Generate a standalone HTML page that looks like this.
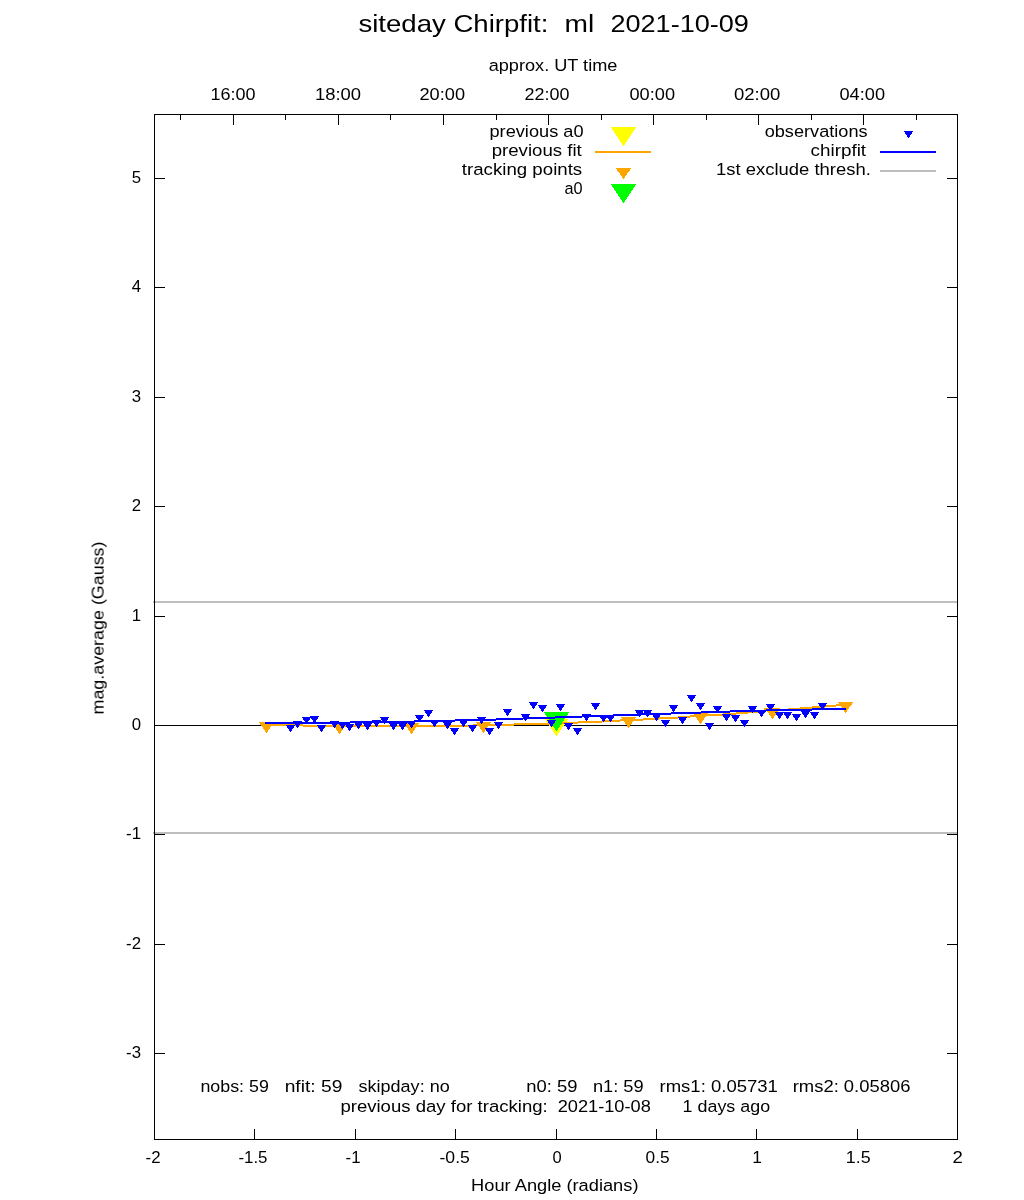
<!DOCTYPE html>
<html><head><meta charset="utf-8"><title>siteday Chirpfit</title>
<style>html,body{margin:0;padding:0;background:#fff;width:1024px;height:1200px;overflow:hidden}svg{display:block}</style>
</head><body>
<svg width="1024" height="1200" viewBox="0 0 1024 1200">
<rect width="1024" height="1200" fill="#fff"/>
<g stroke-linecap="butt" shape-rendering="crispEdges">
<line x1="154.5" y1="725.5" x2="957.5" y2="725.5" stroke="#000" stroke-width="1"/>
<line x1="154.5" y1="178.5" x2="164.5" y2="178.5" stroke="#000"/>
<line x1="957.5" y1="178.5" x2="947.0" y2="178.5" stroke="#000"/>
<line x1="154.5" y1="287.5" x2="164.5" y2="287.5" stroke="#000"/>
<line x1="957.5" y1="287.5" x2="947.0" y2="287.5" stroke="#000"/>
<line x1="154.5" y1="397.5" x2="164.5" y2="397.5" stroke="#000"/>
<line x1="957.5" y1="397.5" x2="947.0" y2="397.5" stroke="#000"/>
<line x1="154.5" y1="506.5" x2="164.5" y2="506.5" stroke="#000"/>
<line x1="957.5" y1="506.5" x2="947.0" y2="506.5" stroke="#000"/>
<line x1="154.5" y1="616.5" x2="164.5" y2="616.5" stroke="#000"/>
<line x1="957.5" y1="616.5" x2="947.0" y2="616.5" stroke="#000"/>
<line x1="154.5" y1="725.5" x2="164.5" y2="725.5" stroke="#000"/>
<line x1="957.5" y1="725.5" x2="947.0" y2="725.5" stroke="#000"/>
<line x1="154.5" y1="834.5" x2="164.5" y2="834.5" stroke="#000"/>
<line x1="957.5" y1="834.5" x2="947.0" y2="834.5" stroke="#000"/>
<line x1="154.5" y1="944.5" x2="164.5" y2="944.5" stroke="#000"/>
<line x1="957.5" y1="944.5" x2="947.0" y2="944.5" stroke="#000"/>
<line x1="154.5" y1="1053.5" x2="164.5" y2="1053.5" stroke="#000"/>
<line x1="957.5" y1="1053.5" x2="947.0" y2="1053.5" stroke="#000"/>
<line x1="154.5" y1="1139.5" x2="154.5" y2="1129.0" stroke="#000"/>
<line x1="254.5" y1="1139.5" x2="254.5" y2="1129.0" stroke="#000"/>
<line x1="355.5" y1="1139.5" x2="355.5" y2="1129.0" stroke="#000"/>
<line x1="455.5" y1="1139.5" x2="455.5" y2="1129.0" stroke="#000"/>
<line x1="556.5" y1="1139.5" x2="556.5" y2="1129.0" stroke="#000"/>
<line x1="656.5" y1="1139.5" x2="656.5" y2="1129.0" stroke="#000"/>
<line x1="756.5" y1="1139.5" x2="756.5" y2="1129.0" stroke="#000"/>
<line x1="857.5" y1="1139.5" x2="857.5" y2="1129.0" stroke="#000"/>
<line x1="957.5" y1="1139.5" x2="957.5" y2="1129.0" stroke="#000"/>
<line x1="180.5" y1="114.5" x2="180.5" y2="119.5" stroke="#000"/>
<line x1="233.5" y1="114.5" x2="233.5" y2="124.5" stroke="#000"/>
<line x1="285.5" y1="114.5" x2="285.5" y2="119.5" stroke="#000"/>
<line x1="338.5" y1="114.5" x2="338.5" y2="124.5" stroke="#000"/>
<line x1="390.5" y1="114.5" x2="390.5" y2="119.5" stroke="#000"/>
<line x1="443.5" y1="114.5" x2="443.5" y2="124.5" stroke="#000"/>
<line x1="496.5" y1="114.5" x2="496.5" y2="119.5" stroke="#000"/>
<line x1="548.5" y1="114.5" x2="548.5" y2="124.5" stroke="#000"/>
<line x1="601.5" y1="114.5" x2="601.5" y2="119.5" stroke="#000"/>
<line x1="653.5" y1="114.5" x2="653.5" y2="124.5" stroke="#000"/>
<line x1="706.5" y1="114.5" x2="706.5" y2="119.5" stroke="#000"/>
<line x1="758.5" y1="114.5" x2="758.5" y2="124.5" stroke="#000"/>
<line x1="811.5" y1="114.5" x2="811.5" y2="119.5" stroke="#000"/>
<line x1="863.5" y1="114.5" x2="863.5" y2="124.5" stroke="#000"/>
<line x1="916.5" y1="114.5" x2="916.5" y2="119.5" stroke="#000"/>
<path d="M545 719h23v1h-23zM546 720h21v1h-21zM546 721h21v1h-21zM547 722h19v1h-19zM548 723h17v1h-17zM548 724h17v1h-17zM549 725h15v1h-15zM550 726h13v1h-13zM551 727h11v1h-11zM551 728h11v1h-11zM552 729h9v1h-9zM553 730h7v1h-7zM553 731h7v1h-7zM554 732h5v1h-5zM555 733h3v1h-3zM555 734h3v1h-3zM556 735h1v1h-1z" fill="#ffff00"/>
<path fill="#ffa500" d="M265 724h38v2h-38zM303 725h170v2h-170zM473 724h41v2h-41zM514 723h48v2h-48zM562 722h16v2h-16zM578 721h24v2h-24zM602 720h18v2h-18zM620 719h23v2h-23zM643 718h16v2h-16zM659 717h19v2h-19zM678 716h12v2h-12zM690 715h14v2h-14zM704 714h19v2h-19zM723 713h13v2h-13zM736 712h12v2h-12zM748 711h16v2h-16zM764 708h16v2h-16zM780 709h8v2h-8zM788 708h12v2h-12zM800 707h12v2h-12zM812 706h13v2h-13zM825 705h11v2h-11zM836 704h10v2h-10z"/>
<path d="M259 722h15v1h-15zM260 723h13v1h-13zM260 724h13v1h-13zM261 725h11v1h-11zM262 726h9v1h-9zM263 727h7v1h-7zM263 728h7v1h-7zM264 729h5v1h-5zM265 730h3v1h-3zM265 731h3v1h-3zM266 732h1v1h-1z" fill="#ffa500"/>
<path d="M332 723h15v1h-15zM333 724h13v1h-13zM333 725h13v1h-13zM334 726h11v1h-11zM335 727h9v1h-9zM336 728h7v1h-7zM336 729h7v1h-7zM337 730h5v1h-5zM338 731h3v1h-3zM338 732h3v1h-3zM339 733h1v1h-1z" fill="#ffa500"/>
<path d="M404 723h15v1h-15zM405 724h13v1h-13zM405 725h13v1h-13zM406 726h11v1h-11zM407 727h9v1h-9zM408 728h7v1h-7zM408 729h7v1h-7zM409 730h5v1h-5zM410 731h3v1h-3zM410 732h3v1h-3zM411 733h1v1h-1z" fill="#ffa500"/>
<path d="M476 722h15v1h-15zM477 723h13v1h-13zM477 724h13v1h-13zM478 725h11v1h-11zM479 726h9v1h-9zM480 727h7v1h-7zM480 728h7v1h-7zM481 729h5v1h-5zM482 730h3v1h-3zM482 731h3v1h-3zM483 732h1v1h-1z" fill="#ffa500"/>
<path d="M621 717h15v1h-15zM622 718h13v1h-13zM622 719h13v1h-13zM623 720h11v1h-11zM624 721h9v1h-9zM625 722h7v1h-7zM625 723h7v1h-7zM626 724h5v1h-5zM627 725h3v1h-3zM627 726h3v1h-3zM628 727h1v1h-1z" fill="#ffa500"/>
<path d="M693 713h15v1h-15zM694 714h13v1h-13zM694 715h13v1h-13zM695 716h11v1h-11zM696 717h9v1h-9zM697 718h7v1h-7zM697 719h7v1h-7zM698 720h5v1h-5zM699 721h3v1h-3zM699 722h3v1h-3zM700 723h1v1h-1z" fill="#ffa500"/>
<path d="M765 708h15v1h-15zM766 709h13v1h-13zM766 710h13v1h-13zM767 711h11v1h-11zM768 712h9v1h-9zM769 713h7v1h-7zM769 714h7v1h-7zM770 715h5v1h-5zM771 716h3v1h-3zM771 717h3v1h-3zM772 718h1v1h-1z" fill="#ffa500"/>
<path d="M838 702h15v1h-15zM839 703h13v1h-13zM839 704h13v1h-13zM840 705h11v1h-11zM841 706h9v1h-9zM842 707h7v1h-7zM842 708h7v1h-7zM843 709h5v1h-5zM844 710h3v1h-3zM844 711h3v1h-3zM845 712h1v1h-1z" fill="#ffa500"/>
<path d="M544 712h25v1h-25zM545 713h23v1h-23zM545 714h23v1h-23zM546 715h21v1h-21zM547 716h19v1h-19zM547 717h19v1h-19zM548 718h17v1h-17zM549 719h15v1h-15zM549 720h15v1h-15zM550 721h13v1h-13zM551 722h11v1h-11zM551 723h11v1h-11zM552 724h9v1h-9zM553 725h7v1h-7zM553 726h7v1h-7zM554 727h5v1h-5zM555 728h3v1h-3zM555 729h3v1h-3zM556 730h1v1h-1z" fill="#00ff00"/>
<path d="M286 725h9v1h-9zM287 726h7v1h-7zM287 727h7v1h-7zM288 728h5v1h-5zM289 729h3v1h-3zM289 730h3v1h-3zM290 731h1v1h-1z" fill="#0000ff"/>
<path d="M293 721h9v1h-9zM294 722h7v1h-7zM294 723h7v1h-7zM295 724h5v1h-5zM296 725h3v1h-3zM296 726h3v1h-3zM297 727h1v1h-1z" fill="#0000ff"/>
<path d="M302 717h9v1h-9zM303 718h7v1h-7zM303 719h7v1h-7zM304 720h5v1h-5zM305 721h3v1h-3zM305 722h3v1h-3zM306 723h1v1h-1z" fill="#0000ff"/>
<path d="M310 716h9v1h-9zM311 717h7v1h-7zM311 718h7v1h-7zM312 719h5v1h-5zM313 720h3v1h-3zM313 721h3v1h-3zM314 722h1v1h-1z" fill="#0000ff"/>
<path d="M317 725h9v1h-9zM318 726h7v1h-7zM318 727h7v1h-7zM319 728h5v1h-5zM320 729h3v1h-3zM320 730h3v1h-3zM321 731h1v1h-1z" fill="#0000ff"/>
<path d="M330 721h9v1h-9zM331 722h7v1h-7zM331 723h7v1h-7zM332 724h5v1h-5zM333 725h3v1h-3zM333 726h3v1h-3zM334 727h1v1h-1z" fill="#0000ff"/>
<path d="M338 722h9v1h-9zM339 723h7v1h-7zM339 724h7v1h-7zM340 725h5v1h-5zM341 726h3v1h-3zM341 727h3v1h-3zM342 728h1v1h-1z" fill="#0000ff"/>
<path d="M345 724h9v1h-9zM346 725h7v1h-7zM346 726h7v1h-7zM347 727h5v1h-5zM348 728h3v1h-3zM348 729h3v1h-3zM349 730h1v1h-1z" fill="#0000ff"/>
<path d="M354 722h9v1h-9zM355 723h7v1h-7zM355 724h7v1h-7zM356 725h5v1h-5zM357 726h3v1h-3zM357 727h3v1h-3zM358 728h1v1h-1z" fill="#0000ff"/>
<path d="M363 723h9v1h-9zM364 724h7v1h-7zM364 725h7v1h-7zM365 726h5v1h-5zM366 727h3v1h-3zM366 728h3v1h-3zM367 729h1v1h-1z" fill="#0000ff"/>
<path d="M372 720h9v1h-9zM373 721h7v1h-7zM373 722h7v1h-7zM374 723h5v1h-5zM375 724h3v1h-3zM375 725h3v1h-3zM376 726h1v1h-1z" fill="#0000ff"/>
<path d="M380 717h9v1h-9zM381 718h7v1h-7zM381 719h7v1h-7zM382 720h5v1h-5zM383 721h3v1h-3zM383 722h3v1h-3zM384 723h1v1h-1z" fill="#0000ff"/>
<path d="M389 723h9v1h-9zM390 724h7v1h-7zM390 725h7v1h-7zM391 726h5v1h-5zM392 727h3v1h-3zM392 728h3v1h-3zM393 729h1v1h-1z" fill="#0000ff"/>
<path d="M398 723h9v1h-9zM399 724h7v1h-7zM399 725h7v1h-7zM400 726h5v1h-5zM401 727h3v1h-3zM401 728h3v1h-3zM402 729h1v1h-1z" fill="#0000ff"/>
<path d="M407 721h9v1h-9zM408 722h7v1h-7zM408 723h7v1h-7zM409 724h5v1h-5zM410 725h3v1h-3zM410 726h3v1h-3zM411 727h1v1h-1z" fill="#0000ff"/>
<path d="M415 715h9v1h-9zM416 716h7v1h-7zM416 717h7v1h-7zM417 718h5v1h-5zM418 719h3v1h-3zM418 720h3v1h-3zM419 721h1v1h-1z" fill="#0000ff"/>
<path d="M424 710h9v1h-9zM425 711h7v1h-7zM425 712h7v1h-7zM426 713h5v1h-5zM427 714h3v1h-3zM427 715h3v1h-3zM428 716h1v1h-1z" fill="#0000ff"/>
<path d="M430 720h9v1h-9zM431 721h7v1h-7zM431 722h7v1h-7zM432 723h5v1h-5zM433 724h3v1h-3zM433 725h3v1h-3zM434 726h1v1h-1z" fill="#0000ff"/>
<path d="M443 722h9v1h-9zM444 723h7v1h-7zM444 724h7v1h-7zM445 725h5v1h-5zM446 726h3v1h-3zM446 727h3v1h-3zM447 728h1v1h-1z" fill="#0000ff"/>
<path d="M450 728h9v1h-9zM451 729h7v1h-7zM451 730h7v1h-7zM452 731h5v1h-5zM453 732h3v1h-3zM453 733h3v1h-3zM454 734h1v1h-1z" fill="#0000ff"/>
<path d="M459 720h9v1h-9zM460 721h7v1h-7zM460 722h7v1h-7zM461 723h5v1h-5zM462 724h3v1h-3zM462 725h3v1h-3zM463 726h1v1h-1z" fill="#0000ff"/>
<path d="M468 725h9v1h-9zM469 726h7v1h-7zM469 727h7v1h-7zM470 728h5v1h-5zM471 729h3v1h-3zM471 730h3v1h-3zM472 731h1v1h-1z" fill="#0000ff"/>
<path d="M477 717h9v1h-9zM478 718h7v1h-7zM478 719h7v1h-7zM479 720h5v1h-5zM480 721h3v1h-3zM480 722h3v1h-3zM481 723h1v1h-1z" fill="#0000ff"/>
<path d="M485 728h9v1h-9zM486 729h7v1h-7zM486 730h7v1h-7zM487 731h5v1h-5zM488 732h3v1h-3zM488 733h3v1h-3zM489 734h1v1h-1z" fill="#0000ff"/>
<path d="M494 722h9v1h-9zM495 723h7v1h-7zM495 724h7v1h-7zM496 725h5v1h-5zM497 726h3v1h-3zM497 727h3v1h-3zM498 728h1v1h-1z" fill="#0000ff"/>
<path d="M503 709h9v1h-9zM504 710h7v1h-7zM504 711h7v1h-7zM505 712h5v1h-5zM506 713h3v1h-3zM506 714h3v1h-3zM507 715h1v1h-1z" fill="#0000ff"/>
<path d="M521 714h9v1h-9zM522 715h7v1h-7zM522 716h7v1h-7zM523 717h5v1h-5zM524 718h3v1h-3zM524 719h3v1h-3zM525 720h1v1h-1z" fill="#0000ff"/>
<path d="M529 702h9v1h-9zM530 703h7v1h-7zM530 704h7v1h-7zM531 705h5v1h-5zM532 706h3v1h-3zM532 707h3v1h-3zM533 708h1v1h-1z" fill="#0000ff"/>
<path d="M538 705h9v1h-9zM539 706h7v1h-7zM539 707h7v1h-7zM540 708h5v1h-5zM541 709h3v1h-3zM541 710h3v1h-3zM542 711h1v1h-1z" fill="#0000ff"/>
<path d="M547 720h9v1h-9zM548 721h7v1h-7zM548 722h7v1h-7zM549 723h5v1h-5zM550 724h3v1h-3zM550 725h3v1h-3zM551 726h1v1h-1z" fill="#0000ff"/>
<path d="M556 704h9v1h-9zM557 705h7v1h-7zM557 706h7v1h-7zM558 707h5v1h-5zM559 708h3v1h-3zM559 709h3v1h-3zM560 710h1v1h-1z" fill="#0000ff"/>
<path d="M564 723h9v1h-9zM565 724h7v1h-7zM565 725h7v1h-7zM566 726h5v1h-5zM567 727h3v1h-3zM567 728h3v1h-3zM568 729h1v1h-1z" fill="#0000ff"/>
<path d="M573 728h9v1h-9zM574 729h7v1h-7zM574 730h7v1h-7zM575 731h5v1h-5zM576 732h3v1h-3zM576 733h3v1h-3zM577 734h1v1h-1z" fill="#0000ff"/>
<path d="M582 714h9v1h-9zM583 715h7v1h-7zM583 716h7v1h-7zM584 717h5v1h-5zM585 718h3v1h-3zM585 719h3v1h-3zM586 720h1v1h-1z" fill="#0000ff"/>
<path d="M591 703h9v1h-9zM592 704h7v1h-7zM592 705h7v1h-7zM593 706h5v1h-5zM594 707h3v1h-3zM594 708h3v1h-3zM595 709h1v1h-1z" fill="#0000ff"/>
<path d="M599 715h9v1h-9zM600 716h7v1h-7zM600 717h7v1h-7zM601 718h5v1h-5zM602 719h3v1h-3zM602 720h3v1h-3zM603 721h1v1h-1z" fill="#0000ff"/>
<path d="M606 715h9v1h-9zM607 716h7v1h-7zM607 717h7v1h-7zM608 718h5v1h-5zM609 719h3v1h-3zM609 720h3v1h-3zM610 721h1v1h-1z" fill="#0000ff"/>
<path d="M635 710h9v1h-9zM636 711h7v1h-7zM636 712h7v1h-7zM637 713h5v1h-5zM638 714h3v1h-3zM638 715h3v1h-3zM639 716h1v1h-1z" fill="#0000ff"/>
<path d="M643 710h9v1h-9zM644 711h7v1h-7zM644 712h7v1h-7zM645 713h5v1h-5zM646 714h3v1h-3zM646 715h3v1h-3zM647 716h1v1h-1z" fill="#0000ff"/>
<path d="M652 714h9v1h-9zM653 715h7v1h-7zM653 716h7v1h-7zM654 717h5v1h-5zM655 718h3v1h-3zM655 719h3v1h-3zM656 720h1v1h-1z" fill="#0000ff"/>
<path d="M661 720h9v1h-9zM662 721h7v1h-7zM662 722h7v1h-7zM663 723h5v1h-5zM664 724h3v1h-3zM664 725h3v1h-3zM665 726h1v1h-1z" fill="#0000ff"/>
<path d="M669 705h9v1h-9zM670 706h7v1h-7zM670 707h7v1h-7zM671 708h5v1h-5zM672 709h3v1h-3zM672 710h3v1h-3zM673 711h1v1h-1z" fill="#0000ff"/>
<path d="M678 717h9v1h-9zM679 718h7v1h-7zM679 719h7v1h-7zM680 720h5v1h-5zM681 721h3v1h-3zM681 722h3v1h-3zM682 723h1v1h-1z" fill="#0000ff"/>
<path d="M687 695h9v1h-9zM688 696h7v1h-7zM688 697h7v1h-7zM689 698h5v1h-5zM690 699h3v1h-3zM690 700h3v1h-3zM691 701h1v1h-1z" fill="#0000ff"/>
<path d="M696 703h9v1h-9zM697 704h7v1h-7zM697 705h7v1h-7zM698 706h5v1h-5zM699 707h3v1h-3zM699 708h3v1h-3zM700 709h1v1h-1z" fill="#0000ff"/>
<path d="M705 723h9v1h-9zM706 724h7v1h-7zM706 725h7v1h-7zM707 726h5v1h-5zM708 727h3v1h-3zM708 728h3v1h-3zM709 729h1v1h-1z" fill="#0000ff"/>
<path d="M713 706h9v1h-9zM714 707h7v1h-7zM714 708h7v1h-7zM715 709h5v1h-5zM716 710h3v1h-3zM716 711h3v1h-3zM717 712h1v1h-1z" fill="#0000ff"/>
<path d="M722 714h9v1h-9zM723 715h7v1h-7zM723 716h7v1h-7zM724 717h5v1h-5zM725 718h3v1h-3zM725 719h3v1h-3zM726 720h1v1h-1z" fill="#0000ff"/>
<path d="M731 715h9v1h-9zM732 716h7v1h-7zM732 717h7v1h-7zM733 718h5v1h-5zM734 719h3v1h-3zM734 720h3v1h-3zM735 721h1v1h-1z" fill="#0000ff"/>
<path d="M740 720h9v1h-9zM741 721h7v1h-7zM741 722h7v1h-7zM742 723h5v1h-5zM743 724h3v1h-3zM743 725h3v1h-3zM744 726h1v1h-1z" fill="#0000ff"/>
<path d="M748 706h9v1h-9zM749 707h7v1h-7zM749 708h7v1h-7zM750 709h5v1h-5zM751 710h3v1h-3zM751 711h3v1h-3zM752 712h1v1h-1z" fill="#0000ff"/>
<path d="M757 710h9v1h-9zM758 711h7v1h-7zM758 712h7v1h-7zM759 713h5v1h-5zM760 714h3v1h-3zM760 715h3v1h-3zM761 716h1v1h-1z" fill="#0000ff"/>
<path d="M766 704h9v1h-9zM767 705h7v1h-7zM767 706h7v1h-7zM768 707h5v1h-5zM769 708h3v1h-3zM769 709h3v1h-3zM770 710h1v1h-1z" fill="#0000ff"/>
<path d="M775 712h9v1h-9zM776 713h7v1h-7zM776 714h7v1h-7zM777 715h5v1h-5zM778 716h3v1h-3zM778 717h3v1h-3zM779 718h1v1h-1z" fill="#0000ff"/>
<path d="M783 712h9v1h-9zM784 713h7v1h-7zM784 714h7v1h-7zM785 715h5v1h-5zM786 716h3v1h-3zM786 717h3v1h-3zM787 718h1v1h-1z" fill="#0000ff"/>
<path d="M792 714h9v1h-9zM793 715h7v1h-7zM793 716h7v1h-7zM794 717h5v1h-5zM795 718h3v1h-3zM795 719h3v1h-3zM796 720h1v1h-1z" fill="#0000ff"/>
<path d="M801 711h9v1h-9zM802 712h7v1h-7zM802 713h7v1h-7zM803 714h5v1h-5zM804 715h3v1h-3zM804 716h3v1h-3zM805 717h1v1h-1z" fill="#0000ff"/>
<path d="M810 712h9v1h-9zM811 713h7v1h-7zM811 714h7v1h-7zM812 715h5v1h-5zM813 716h3v1h-3zM813 717h3v1h-3zM814 718h1v1h-1z" fill="#0000ff"/>
<path d="M818 703h9v1h-9zM819 704h7v1h-7zM819 705h7v1h-7zM820 706h5v1h-5zM821 707h3v1h-3zM821 708h3v1h-3zM822 709h1v1h-1z" fill="#0000ff"/>
<path fill="#0000ff" d="M265 722h85v2h-85zM350 721h64v2h-64zM414 720h41v2h-41zM455 719h41v2h-41zM496 718h27v2h-27zM523 717h32v2h-32zM555 716h27v2h-27zM582 715h31v2h-31zM613 714h27v2h-27zM640 713h31v2h-31zM671 712h30v2h-30zM701 711h29v2h-29zM730 710h36v2h-36zM766 709h46v2h-46zM812 708h34v2h-34z"/>
<line x1="153" y1="602" x2="958" y2="602" stroke="#bebebe" stroke-width="2"/>
<line x1="153" y1="833" x2="958" y2="833" stroke="#bebebe" stroke-width="2"/>
<rect x="154.5" y="114.5" width="803.0" height="1025.0" fill="none" stroke="#000" stroke-width="1"/>
<path d="M611 127h25v1h-25zM612 128h23v1h-23zM612 129h23v1h-23zM613 130h21v1h-21zM614 131h19v1h-19zM614 132h19v1h-19zM615 133h17v1h-17zM616 134h15v1h-15zM616 135h15v1h-15zM617 136h13v1h-13zM618 137h11v1h-11zM618 138h11v1h-11zM619 139h9v1h-9zM620 140h7v1h-7zM620 141h7v1h-7zM621 142h5v1h-5zM622 143h3v1h-3zM622 144h3v1h-3zM623 145h1v1h-1z" fill="#ffff00"/>
<line x1="595" y1="152" x2="651" y2="152" stroke="#ffa500" stroke-width="2"/>
<path d="M616 168h15v1h-15zM617 169h13v1h-13zM617 170h13v1h-13zM618 171h11v1h-11zM619 172h9v1h-9zM620 173h7v1h-7zM620 174h7v1h-7zM621 175h5v1h-5zM622 176h3v1h-3zM622 177h3v1h-3zM623 178h1v1h-1z" fill="#ffa500"/>
<path d="M611 184h25v1h-25zM612 185h23v1h-23zM612 186h23v1h-23zM613 187h21v1h-21zM614 188h19v1h-19zM614 189h19v1h-19zM615 190h17v1h-17zM616 191h15v1h-15zM616 192h15v1h-15zM617 193h13v1h-13zM618 194h11v1h-11zM618 195h11v1h-11zM619 196h9v1h-9zM620 197h7v1h-7zM620 198h7v1h-7zM621 199h5v1h-5zM622 200h3v1h-3zM622 201h3v1h-3zM623 202h1v1h-1z" fill="#00ff00"/>
<path d="M904 131h9v1h-9zM905 132h7v1h-7zM905 133h7v1h-7zM906 134h5v1h-5zM907 135h3v1h-3zM907 136h3v1h-3zM908 137h1v1h-1z" fill="#0000ff"/>
<line x1="880" y1="152" x2="936" y2="152" stroke="#0000ff" stroke-width="2"/>
<line x1="880" y1="171" x2="936" y2="171" stroke="#bebebe" stroke-width="2"/>
</g>
<g font-family='"Liberation Sans", sans-serif' fill="#000" style="will-change:transform">
<text x="358.40" y="32" font-size="24.8" textLength="190.00" lengthAdjust="spacingAndGlyphs">siteday Chirpfit:</text>
<text x="564.60" y="32" font-size="24.8" textLength="29.70" lengthAdjust="spacingAndGlyphs">ml</text>
<text x="610.45" y="32" font-size="24.8" textLength="138.45" lengthAdjust="spacingAndGlyphs">2021-10-09</text>
<text x="488.70" y="71" font-size="16.8" textLength="128.70" lengthAdjust="spacingAndGlyphs">approx. UT time</text>
<text x="210.45" y="100" font-size="16.8" textLength="45.05" lengthAdjust="spacingAndGlyphs">16:00</text>
<text x="314.90" y="100" font-size="16.8" textLength="46.15" lengthAdjust="spacingAndGlyphs">18:00</text>
<text x="419.50" y="100" font-size="16.8" textLength="45.55" lengthAdjust="spacingAndGlyphs">20:00</text>
<text x="524.50" y="100" font-size="16.8" textLength="44.90" lengthAdjust="spacingAndGlyphs">22:00</text>
<text x="629.50" y="100" font-size="16.8" textLength="45.55" lengthAdjust="spacingAndGlyphs">00:00</text>
<text x="733.95" y="100" font-size="16.8" textLength="46.45" lengthAdjust="spacingAndGlyphs">02:00</text>
<text x="839.50" y="100" font-size="16.8" textLength="45.55" lengthAdjust="spacingAndGlyphs">04:00</text>
<text x="489.50" y="137" font-size="16.8" textLength="94.00" lengthAdjust="spacingAndGlyphs">previous a0</text>
<text x="491.70" y="156" font-size="16.8" textLength="90.10" lengthAdjust="spacingAndGlyphs">previous fit</text>
<text x="461.80" y="175" font-size="16.8" textLength="120.40" lengthAdjust="spacingAndGlyphs">tracking points</text>
<text x="564.40" y="194" font-size="16.8" textLength="18.10" lengthAdjust="spacingAndGlyphs">a0</text>
<text x="764.70" y="137" font-size="16.8" textLength="102.90" lengthAdjust="spacingAndGlyphs">observations</text>
<text x="810.60" y="156" font-size="16.8" textLength="55.50" lengthAdjust="spacingAndGlyphs">chirpfit</text>
<text x="716.00" y="175" font-size="16.8" textLength="154.80" lengthAdjust="spacingAndGlyphs">1st exclude thresh.</text>
<text x="200.40" y="1092" font-size="16.8" textLength="68.50" lengthAdjust="spacingAndGlyphs">nobs: 59</text>
<text x="284.70" y="1092" font-size="16.8" textLength="57.70" lengthAdjust="spacingAndGlyphs">nfit: 59</text>
<text x="358.50" y="1092" font-size="16.8" textLength="91.20" lengthAdjust="spacingAndGlyphs">skipday: no</text>
<text x="526.30" y="1092" font-size="16.8" textLength="51.20" lengthAdjust="spacingAndGlyphs">n0: 59</text>
<text x="592.90" y="1092" font-size="16.8" textLength="50.80" lengthAdjust="spacingAndGlyphs">n1: 59</text>
<text x="659.50" y="1092" font-size="16.8" textLength="118.40" lengthAdjust="spacingAndGlyphs">rms1: 0.05731</text>
<text x="792.70" y="1092" font-size="16.8" textLength="117.80" lengthAdjust="spacingAndGlyphs">rms2: 0.05806</text>
<text x="340.40" y="1112" font-size="16.8" textLength="207.30" lengthAdjust="spacingAndGlyphs">previous day for tracking:</text>
<text x="557.70" y="1112" font-size="16.8" textLength="93.10" lengthAdjust="spacingAndGlyphs">2021-10-08</text>
<text x="682.60" y="1112" font-size="16.8" textLength="87.50" lengthAdjust="spacingAndGlyphs">1 days ago</text>
<text x="471.10" y="1191" font-size="16.8" textLength="167.40" lengthAdjust="spacingAndGlyphs">Hour Angle (radians)</text>
<text x="145.60" y="1163" font-size="16.8" textLength="14.94" lengthAdjust="spacingAndGlyphs">-2</text>
<text x="238.40" y="1163" font-size="16.8" textLength="29.10" lengthAdjust="spacingAndGlyphs">-1.5</text>
<text x="345.60" y="1163" font-size="16.8" textLength="14.94" lengthAdjust="spacingAndGlyphs">-1</text>
<text x="439.50" y="1163" font-size="16.8" textLength="30.40" lengthAdjust="spacingAndGlyphs">-0.5</text>
<text x="552.40" y="1163" font-size="16.8" textLength="9.20" lengthAdjust="spacingAndGlyphs">0</text>
<text x="645.50" y="1163" font-size="16.8" textLength="24.10" lengthAdjust="spacingAndGlyphs">0.5</text>
<text x="752.20" y="1163" font-size="16.8" textLength="9.70" lengthAdjust="spacingAndGlyphs">1</text>
<text x="845.80" y="1163" font-size="16.8" textLength="24.80" lengthAdjust="spacingAndGlyphs">1.5</text>
<text x="952.60" y="1163" font-size="16.8" textLength="10.30" lengthAdjust="spacingAndGlyphs">2</text>
<text x="141" y="183" font-size="16.8" text-anchor="end">5</text>
<text x="141" y="292" font-size="16.8" text-anchor="end">4</text>
<text x="141" y="402" font-size="16.8" text-anchor="end">3</text>
<text x="141" y="511" font-size="16.8" text-anchor="end">2</text>
<text x="141" y="621" font-size="16.8" text-anchor="end">1</text>
<text x="141" y="730" font-size="16.8" text-anchor="end">0</text>
<text x="141" y="839" font-size="16.8" text-anchor="end">-1</text>
<text x="141" y="949" font-size="16.8" text-anchor="end">-2</text>
<text x="141" y="1058" font-size="16.8" text-anchor="end">-3</text>
<text x="0" y="0" font-size="16.8" text-anchor="middle" textLength="173" lengthAdjust="spacingAndGlyphs" transform="translate(103.6,628) rotate(-90)">mag.average (Gauss)</text>
</g>
</svg>
</body></html>
